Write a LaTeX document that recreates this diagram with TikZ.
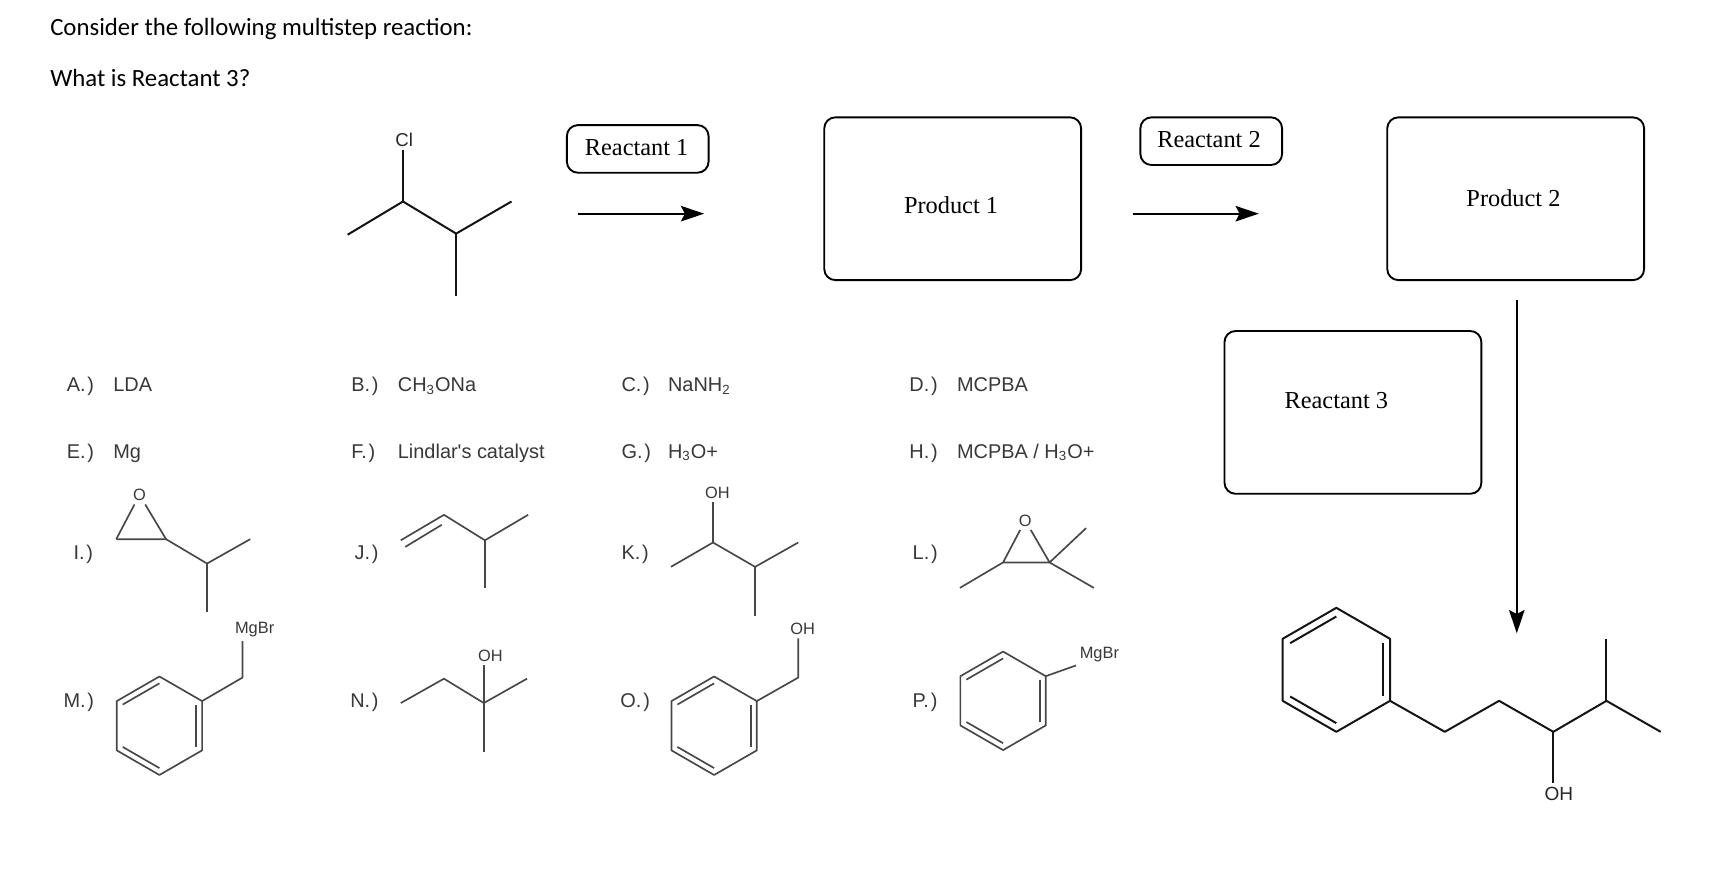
\documentclass[tikz,border=0pt]{standalone}
\usepackage{fontspec}
\setmainfont{Carlito}
\newfontfamily\armfont{Liberation Sans}
\newfontfamily\timfont{Liberation Serif}
\usetikzlibrary{positioning,arrows.meta}

\begin{document}
\begin{tikzpicture}[x=0.5pt,y=-0.5pt]
\tikzset{
	benzene/.pic={
		\coordinate (-ur) at (-30:#1);
		\coordinate (-lr) at (30:#1);
		\draw (90:#1) -- (30:#1) -- (-30:#1) -- (-90:#1) -- (-150:#1) -- (150:#1) -- cycle;
		% inner lines
		\draw (-30:0.86*#1) -- (30:0.86*#1);
		\draw (90:0.86*#1) -- (150:0.86*#1);
		\draw (-90:0.86*#1) -- (-150:0.86*#1);
	}
}

\tikzset{
	topbond/.style={line width=0.9pt,line join=round,black!92},
	optbond/.style={line width=0.75pt,line join=round,black!72},
	tagtext/.style={anchor=base west,inner sep=0pt,text=black!78,font=\armfont\fontsize{9}{10}\selectfont},
	atomtext/.style={inner sep=1.5pt,text=black!78,font=\armfont\fontsize{7.4}{8}\selectfont},
	headtext/.style={anchor=base west,inner sep=0pt,font=\fontsize{11.2}{12}\selectfont},
	boxtext/.style={inner sep=0pt,font=\timfont\fontsize{11}{12}\selectfont},
	bigbox/.style={draw,line width=0.85pt,rounded corners=5pt,minimum width=116pt,minimum height=73.5pt},
	smallbox/.style={draw,line width=0.85pt,rounded corners=5pt,minimum width=64pt,minimum height=21.5pt},
	flowarrow/.style={line width=0.85pt,-{Stealth[length=10.5pt,width=7pt,inset=1.8pt]}}
}

\useasboundingbox (0,0) rectangle (1568,802);

% question
\node[headtext] (ask) at (45,32) {Consider the following multistep reaction:};
\node[headtext] (askb) at (45,78) {What is Reactant 3?};

% boxes
\node[smallbox] (rea) at (576,134.5) {};
\node[boxtext] (reaname) at (575,133) {Reactant 1};
\node[bigbox] (pra) at (860.5,179.5) {};
\node[boxtext] (praname) at (859,185) {Product 1};
\node[smallbox] (reb) at (1094,127.5) {};
\node[boxtext] (rebname) at (1092,126) {Reactant 2};
\node[bigbox] (prb) at (1369,179.5) {};
\node[boxtext] (prbname) at (1367,179) {Product 2};
\node[bigbox] (rec) at (1222,372.5) {};
\node[boxtext] (recname) at (1207,362) {Reactant 3};

% arrows
\coordinate (arsa) at (522,193);
\coordinate (arsb) at (636,193);
\coordinate (arta) at (1023,193);
\coordinate (artb) at (1137,193);
\coordinate (arua) at (1370,271);
\coordinate (arub) at (1370,572);
\draw[flowarrow] (arsa) -- (arsb);
\draw[flowarrow] (arta) -- (artb);
\draw[flowarrow] (arua) -- (arub);

% start chloride
\node[atomtext,text=black!85,font=\armfont\fontsize{8.4}{9}\selectfont] (cl) at (365,126) {Cl};
\draw[topbond] (314,212) -- (364,182) coordinate (clc) -- (412,211) coordinate (cld) -- (462,182);
\draw[topbond] (cld) -- (412,267);
\draw[topbond] (clc) -- (clc |- cl.south);

% letters
\foreach \lett/\xpos/\ypos in {A/60/354,B/317/354,C/561/354,D/821/354,
	E/60/414,F/317/414,G/561/414,H/821/414,
	I/66/505,J/320/505,K/561/505,L/824/505,
	M/57/639,N/316/639,O/560/639,P/824/639}{
	\node[tagtext] (opt\lett) at (\xpos,\ypos) {\lett.\kern0.8pt)};
}

% reagents
\node[tagtext] (lda) at (102,354) {LDA};
\node[tagtext] (meth) at (359,354) {CH\textsubscript{3}ONa};
\node[tagtext] (amide) at (603,354) {NaNH\textsubscript{2}};
\node[tagtext] (mcpba) at (864,354) {MCPBA};
\node[tagtext] (magn) at (102,414) {Mg};
\node[tagtext] (lind) at (359,414) {Lindlar's catalyst};
\node[tagtext] (acid) at (603,414) {H\textsubscript{3}O+};
\node[tagtext] (mcac) at (864,414) {MCPBA / H\textsubscript{3}O+};

% epoxide I
\node[atomtext] (ioxy) at (126,447) {O};
\draw[optbond] (105,487) -- (150,487) coordinate (ic) -- (187,509) coordinate (id) -- (226,487);
\draw[optbond] (id) -- (187,553);
\draw[optbond] (105,487) -- (ioxy) -- (ic);

% alkene J
\draw[optbond] (362,488) -- (401,465) -- (438,488) coordinate (jc) -- (477,465);
\draw[optbond] (jc) -- (438,531);
\draw[optbond] (366,494) -- (399,474);

% alcohol K
\node[atomtext] (koh) at (648,445) {OH};
\draw[optbond] (606,512) -- (644,490) coordinate (kc) -- (682,512) coordinate (kd) -- (721,490);
\draw[optbond] (kd) -- (682,556);
\draw[optbond] (kc) -- (kc |- koh.south);

% epoxide L
\node[atomtext] (loxy) at (926,470) {O};
\coordinate (lc) at (906,508);
\coordinate (ld) at (948,508);
\draw[optbond] (lc) -- (ld) -- (loxy) -- (lc);
\draw[optbond] (lc) -- (867,531);
\draw[optbond] (ld) -- (981,477);
\draw[optbond] (ld) -- (988,531);

% benzyl M
\node[atomtext] (mbr) at (230,569) {MgBr};
\pic[optbond] (mben) at (144,655.5) {benzene=44.5};
\draw[optbond] (mben-ur) -- (219,612) coordinate (mc) -- (mc |- mbr.south);

% alcohol N
\node[atomtext] (noh) at (443,592) {OH};
\draw[optbond] (362,635) -- (401,613) -- (437,635) coordinate (nc) -- (476,613);
\draw[optbond] (nc |- noh.south) -- (437,679);

% benzyl O
\node[atomtext] (ooh) at (725,568) {OH};
\pic[optbond] (oben) at (645,655.5) {benzene=44.5};
\draw[optbond] (oben-ur) -- (721,612) coordinate (oc) -- (oc |- ooh.south);

% phenyl P
\node[atomtext] (pbr) at (993,591) {MgBr};
\pic[optbond] (pben) at (906,633) {benzene=44.5};
\draw[optbond] (pben-ur) -- (pbr.south west);

% final alcohol
\node[atomtext,text=black!85,font=\armfont\fontsize{8.6}{9}\selectfont] (zoh) at (1408,717) {OH};
\pic[topbond] (zben) at (1207,605) {benzene=56};
\draw[topbond] (zben-lr) -- (1305,661) -- (1354,633) -- (1403,661) coordinate (zc) -- (1451,633) coordinate (zd) -- (1500,661);
\draw[topbond] (zd) -- (1451,577);
\draw[topbond] (zc) -- (zc |- zoh.north);

\end{tikzpicture}
\end{document}
